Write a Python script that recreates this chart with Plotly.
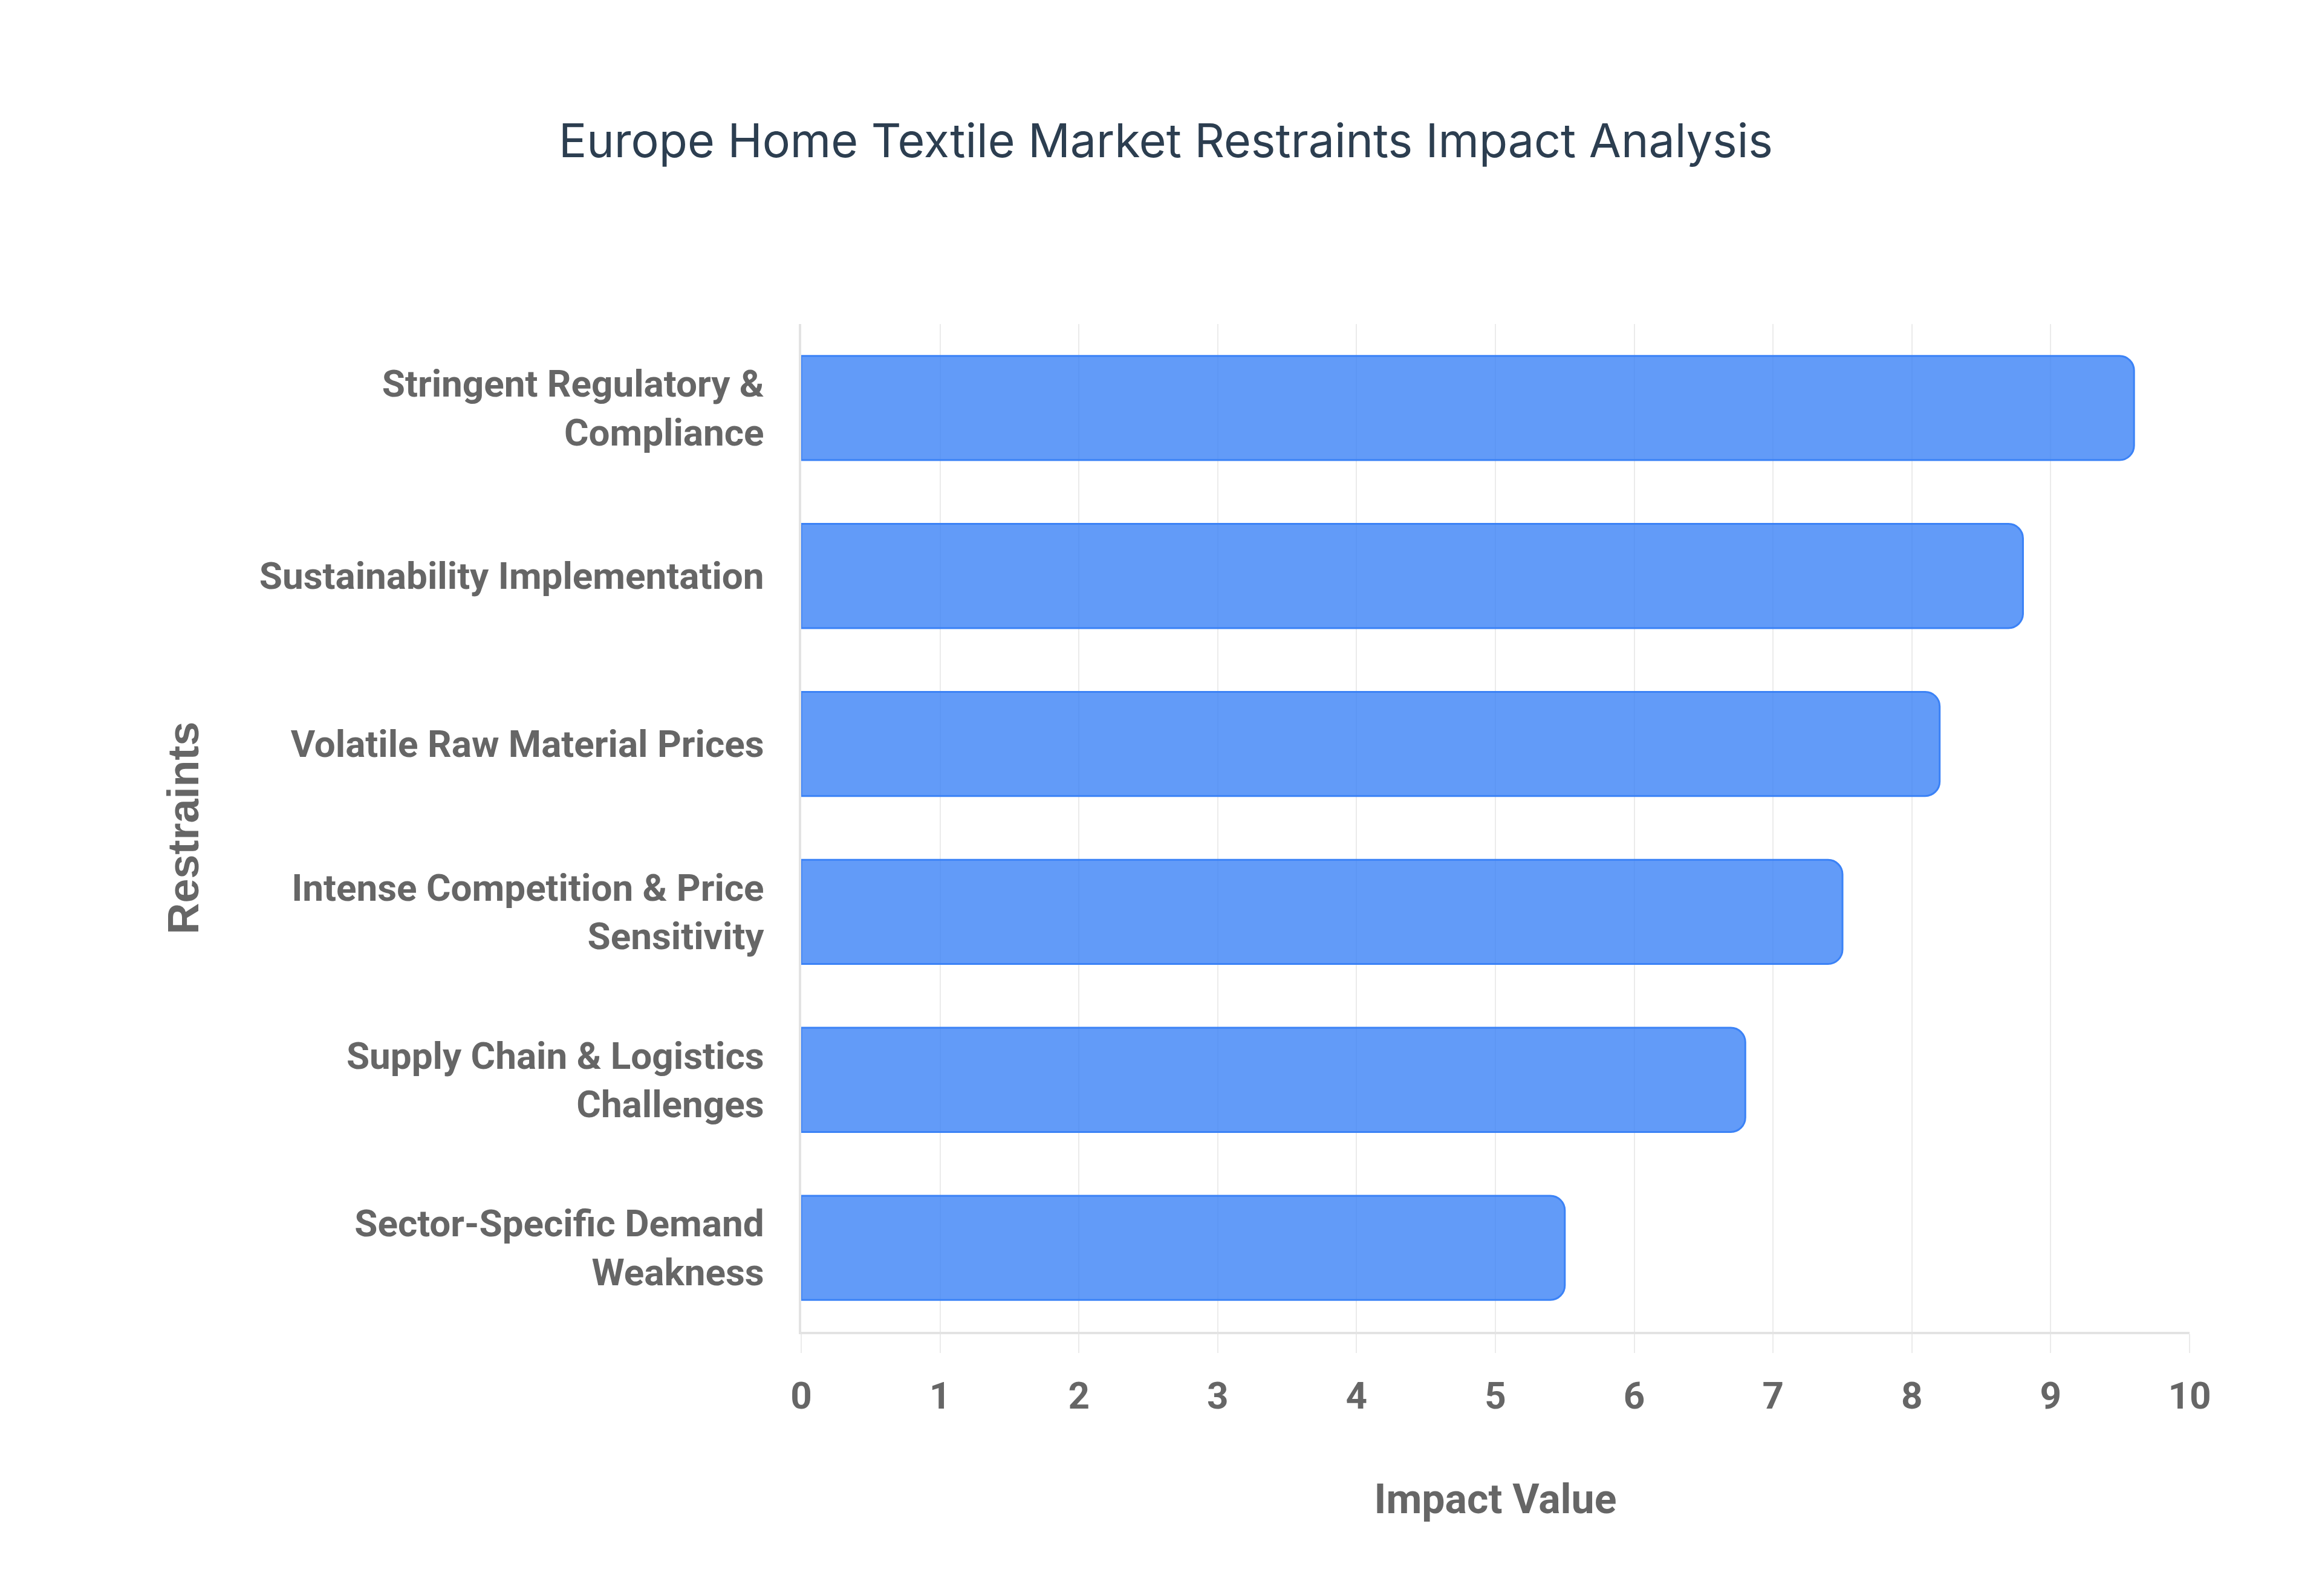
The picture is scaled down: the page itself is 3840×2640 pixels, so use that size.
import plotly.graph_objects as go

categories = [
    "Stringent Regulatory &<br>Compliance",
    "Sustainability Implementation",
    "Volatile Raw Material Prices",
    "Intense Competition & Price<br>Sensitivity",
    "Supply Chain & Logistics<br>Challenges",
    "Sector-Specific Demand<br>Weakness",
]
impact_values = [9.6, 8.8, 8.2, 7.5, 6.8, 5.5]
x_ticks = list(range(0, 11))

title_text = "Europe Home Textile Market Restraints Impact Analysis"
x_title = "Impact Value"
y_title = "Restraints"

fig = go.Figure(
    go.Bar(
        x=impact_values,
        y=categories,
        orientation="h",
        marker=dict(
            color="rgba(59,130,246,0.8)",
            line=dict(color="#3b82f6", width=3),
            cornerradius=24,
        ),
        hoverinfo="x+y",
    )
)

label_font = dict(family="Roboto, Liberation Sans, Arial, sans-serif", size=62, color="#666666", weight="bold")

fig.update_layout(
    width=3840,
    height=2640,
    paper_bgcolor="white",
    plot_bgcolor="white",
    margin=dict(l=1317, r=227, t=528, b=445, autoexpand=False),
    bargap=0.38,
    showlegend=False,
    title=dict(
        text=title_text,
        x=0.5,
        xanchor="center",
        y=1 - 225 / 2640,
        yanchor="middle",
        font=dict(family="Inter, Lato, sans-serif", size=77, color="#2c3e50"),
    ),
    xaxis=dict(
        range=[0, 10],
        tickmode="array",
        tickvals=x_ticks,
        ticktext=[str(v) for v in x_ticks],
        showgrid=True,
        gridcolor="#ebebeb",
        gridwidth=2,
        zeroline=False,
        showline=True,
        linecolor="#e3e3e3",
        linewidth=4,
        ticks="outside",
        ticklen=31,
        tickwidth=2,
        tickcolor="#ebebeb",
        ticklabelstandoff=18,
        tickfont=label_font,
        title=dict(text=x_title, font=dict(family="Roboto, Liberation Sans, Arial, sans-serif", size=68, color="#666666", weight="bold"), standoff=112),
        automargin=False,
    ),
    yaxis=dict(
        autorange="reversed",
        showgrid=False,
        zeroline=False,
        showline=True,
        linecolor="#e3e3e3",
        linewidth=4,
        ticks="",
        ticklabelstandoff=45,
        tickfont=label_font,
        title=dict(text=y_title, font=dict(family="Liberation Sans, Arial, sans-serif", size=72, color="#666666", weight="bold"), standoff=78),
        automargin=False,
    ),
)

fig.write_html("out.html")
